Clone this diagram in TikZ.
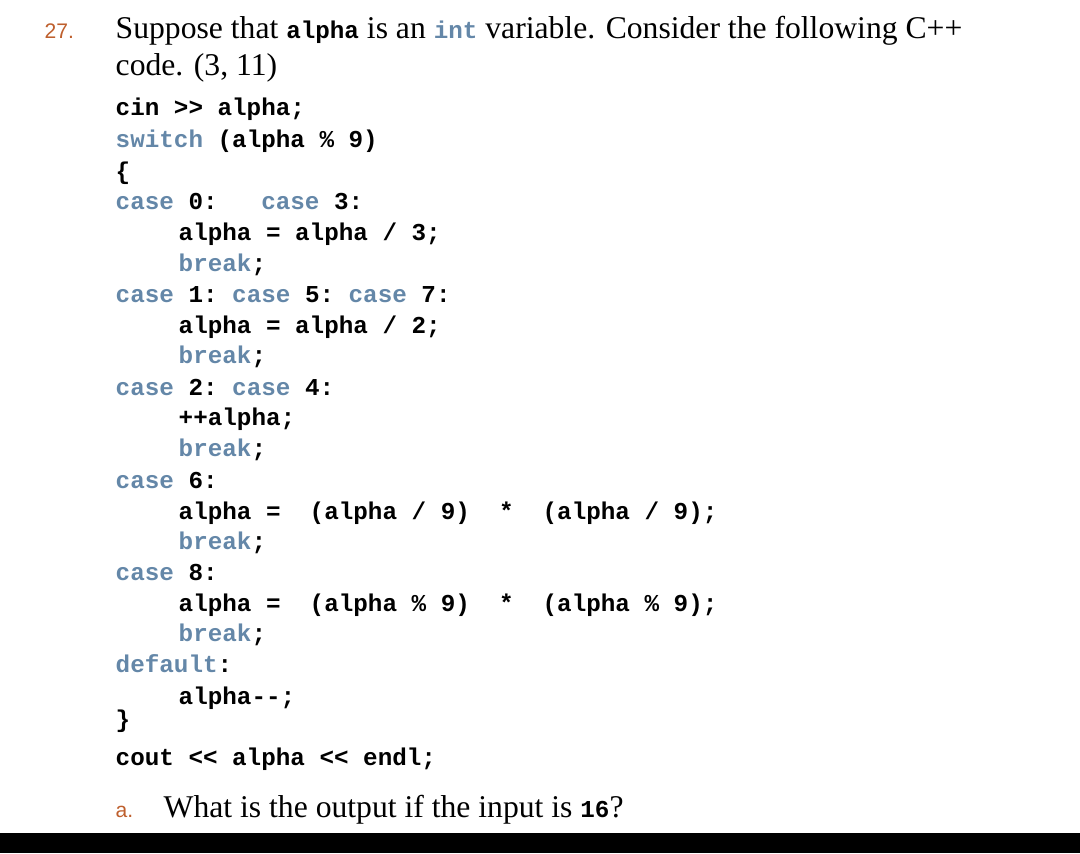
\documentclass[tikz,border=0pt]{standalone}
\usepackage{fontspec}
\setmainfont{Liberation Serif}
\setmonofont{Liberation Mono}
\setsansfont{Liberation Sans}
\definecolor{kw}{RGB}{100,135,168}
\definecolor{qnum}{RGB}{190,95,45}
\newcommand{\K}[1]{\textcolor{kw}{#1}}
\newcommand{\ic}[1]{{\fontsize{6.9pt}{8pt}\ttfamily\bfseries #1}}
\begin{document}
\begin{tikzpicture}[x=0.01cm,y=-0.01cm,
  code/.style={anchor=base west,inner sep=0,font=\fontsize{6.9pt}{8pt}\ttfamily\bfseries},
  prose/.style={anchor=base west,inner sep=0,font=\fontsize{9pt}{10pt}\selectfont},
  num/.style={anchor=base west,inner sep=0,text=qnum,font=\fontsize{6pt}{7pt}\sffamily}]
\useasboundingbox (0,0) rectangle (1080,853);
\fill[black] (0,833) rectangle (1080,853);
\node[num] (n27) at (44,38) {27.};
\node[prose] (l1) at (115,38) {Suppose that \ic{alpha} is an \ic{\K{int}} variable. Consider the following C++};
\node[prose] (l2) at (115,75) {code. (3, 11)};
\node[code] (c1) at (115,115) {cin >> alpha;};
\node[code] (c2) at (115,147) {\K{switch} (alpha \% 9)};
\node[code] (c3) at (115,179) {\{};
\node[code] (c4) at (115,209) {\K{case} 0:~~~\K{case} 3:};
\node[code] (c5) at (178,240) {alpha = alpha / 3;};
\node[code] (c6) at (178,271) {\K{break};};
\node[code] (c7) at (115,302) {\K{case} 1: \K{case} 5: \K{case} 7:};
\node[code] (c8) at (178,333) {alpha = alpha / 2;};
\node[code] (c9) at (178,363) {\K{break};};
\node[code] (c10) at (115,395) {\K{case} 2: \K{case} 4:};
\node[code] (c11) at (178,425) {++alpha;};
\node[code] (c12) at (178,456) {\K{break};};
\node[code] (c13) at (115,488) {\K{case} 6:};
\node[code] (c14) at (178,519) {alpha = ~(alpha / 9) ~* ~(alpha / 9);};
\node[code] (c15) at (178,549) {\K{break};};
\node[code] (c16) at (115,580) {\K{case} 8:};
\node[code] (c17) at (178,611) {alpha = ~(alpha \% 9) ~* ~(alpha \% 9);};
\node[code] (c18) at (178,641) {\K{break};};
\node[code] (c19) at (115,672) {\K{default}:};
\node[code] (c20) at (178,704) {alpha--;};
\node[code] (c21) at (115,727) {\}};
\node[code] (c22) at (115,765) {cout << alpha << endl;};
\node[num] (na) at (115,817) {a.};
\node[prose] (q) at (163,817) {What is the output if the input is \ic{16}?};
\end{tikzpicture}
\end{document}
